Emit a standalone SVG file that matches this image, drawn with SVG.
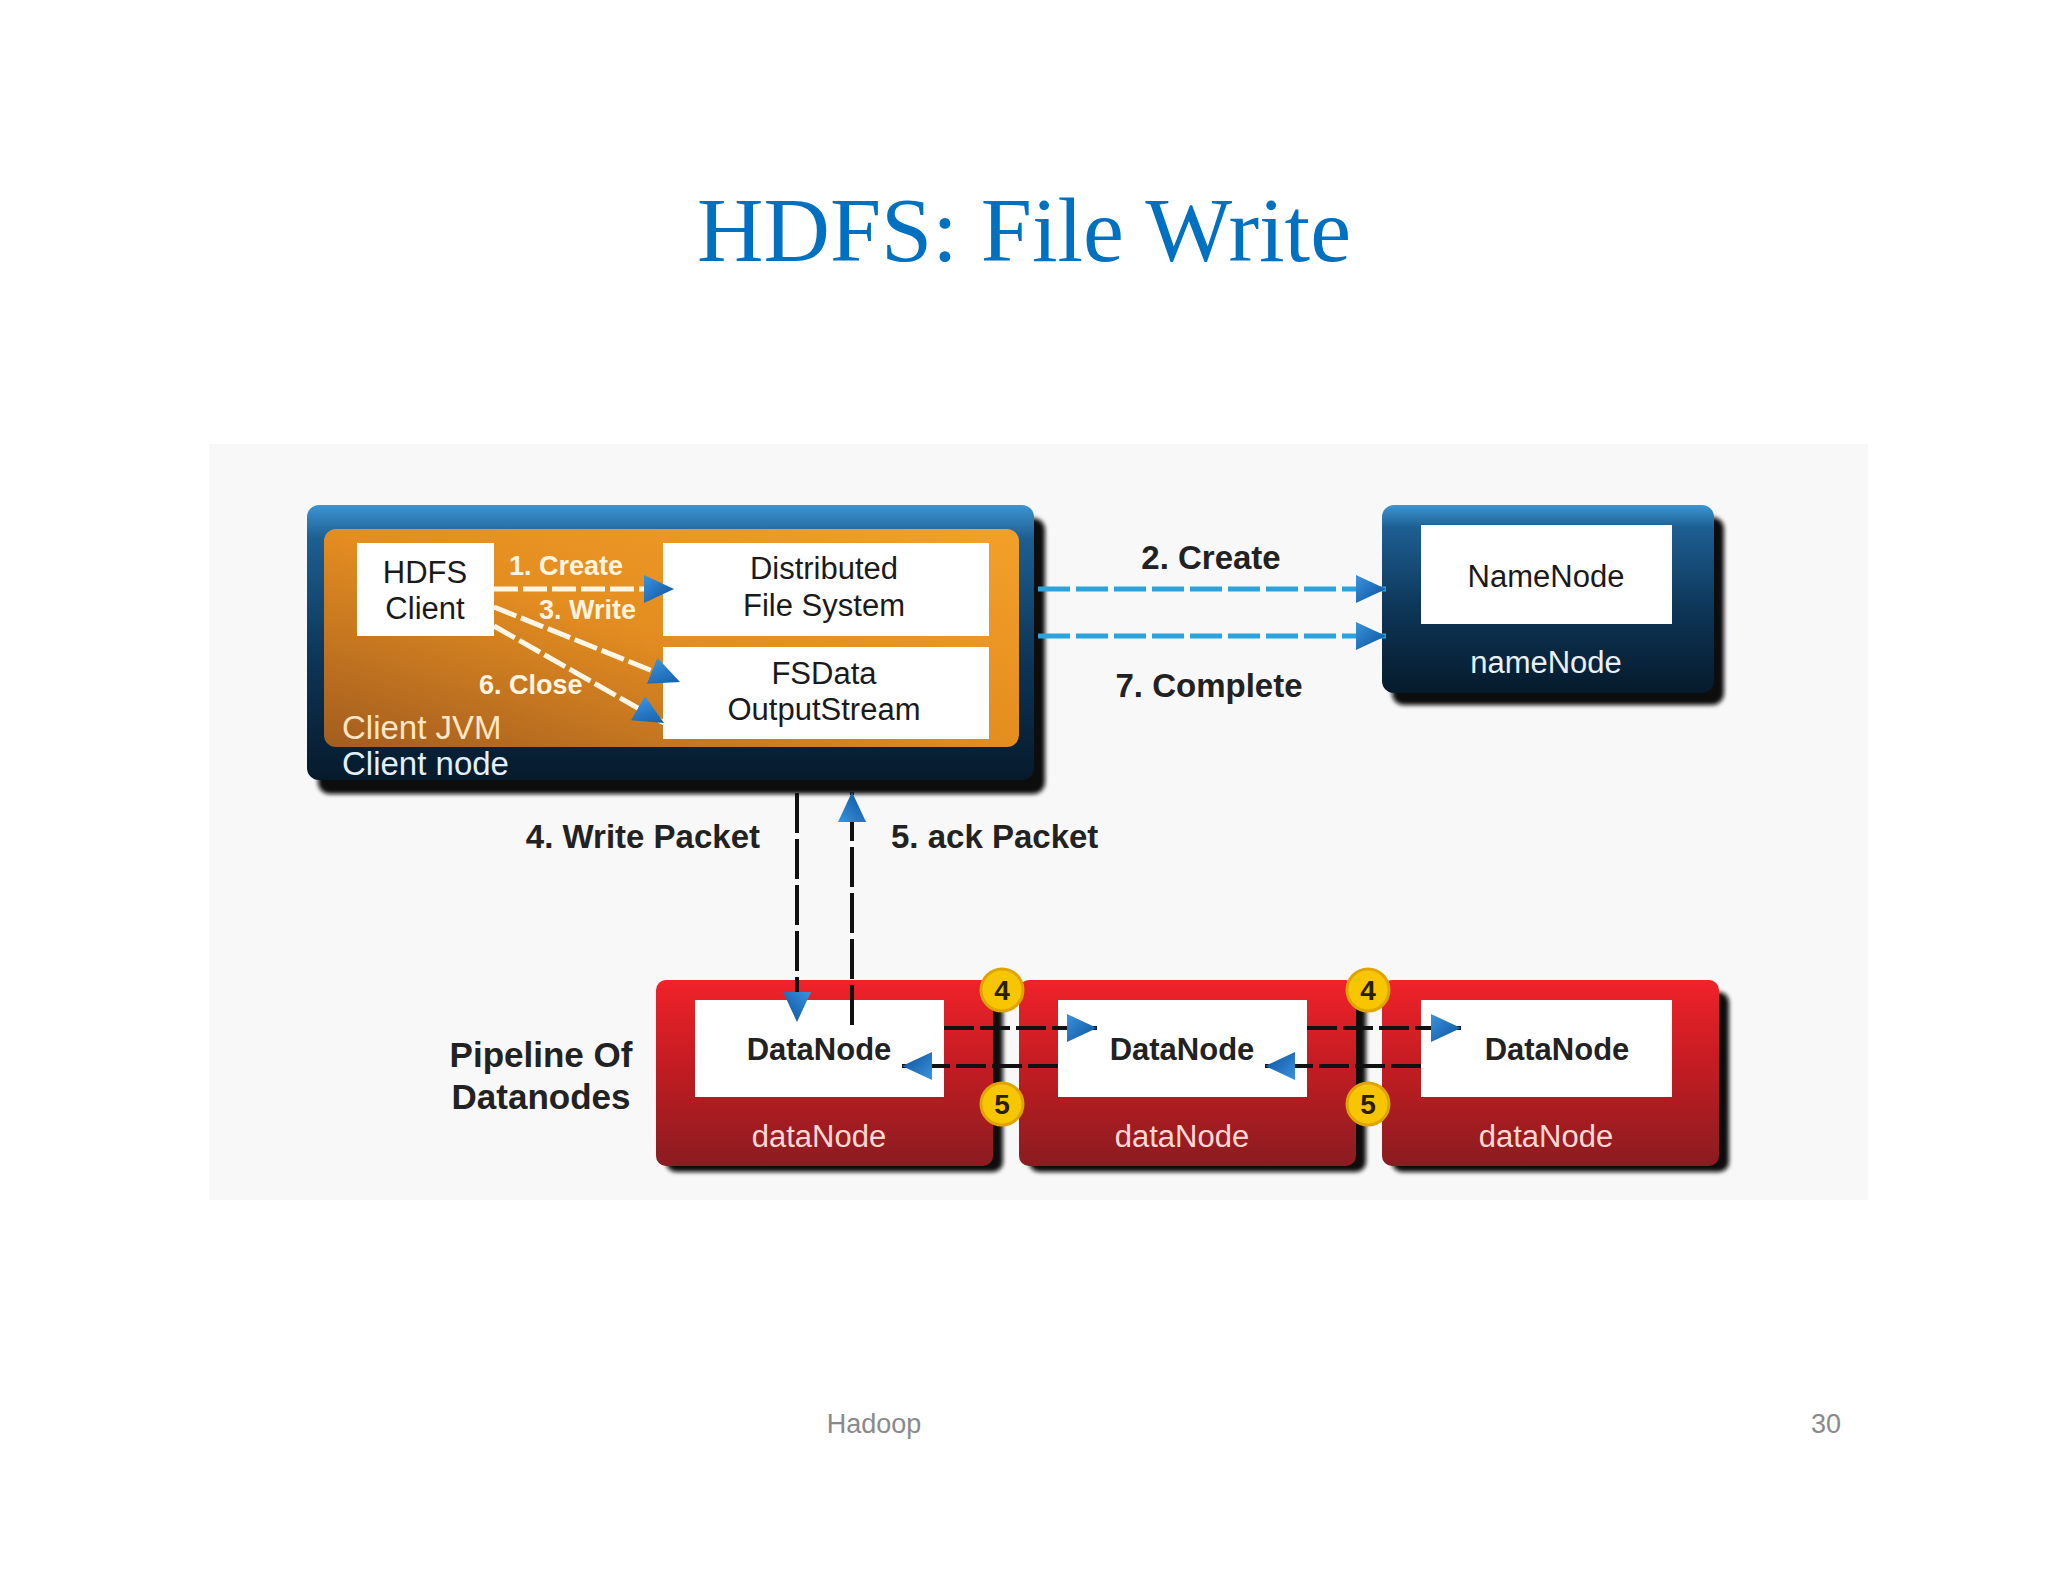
<svg xmlns="http://www.w3.org/2000/svg" width="2048" height="1582" viewBox="0 0 2048 1582">
<defs>
<style>
.sans{font-family:"Liberation Sans",Arial,sans-serif}
.lbl{font-family:"Liberation Sans",Arial,sans-serif;font-weight:bold;font-size:33px;fill:#222}
.box{font-family:"Liberation Sans",Arial,sans-serif;font-size:31px;fill:#1a1a1a}
.inl{font-family:"Liberation Sans",Arial,sans-serif;font-weight:bold;font-size:27px;fill:#fff4e0}
.dn{font-family:"Liberation Sans",Arial,sans-serif;font-weight:bold;font-size:31px;fill:#222}
.dnl{font-family:"Liberation Sans",Arial,sans-serif;font-size:31px;fill:#ffd8d4}
.num{font-family:"Liberation Sans",Arial,sans-serif;font-weight:bold;font-size:28px;fill:#2a2000}
.white{fill:#ffffff}
.shadow{fill:#0b0b0b}
.wd{fill:none;stroke:#fff6e6;stroke-width:5;stroke-dasharray:24 5}
.bd{fill:none;stroke:#2ba3dc;stroke-width:5;stroke-dasharray:32 6}
.kd{fill:none;stroke:#111;stroke-width:4;stroke-dasharray:40 6}
.kh{fill:none;stroke:#111;stroke-width:4;stroke-dasharray:30 6}
.yc{fill:#f7c600;stroke:#e0a400;stroke-width:3}
</style>
<linearGradient id="gBlue" x1="0" y1="0" x2="0" y2="1">
<stop offset="0" stop-color="#3d95d2"/>
<stop offset="0.12" stop-color="#1d5f92"/>
<stop offset="0.55" stop-color="#0d3658"/>
<stop offset="1" stop-color="#061a2b"/>
</linearGradient>
<linearGradient id="gOrange" x1="1" y1="0" x2="0" y2="1">
<stop offset="0" stop-color="#f3a02a"/>
<stop offset="0.5" stop-color="#e48d20"/>
<stop offset="1" stop-color="#a25d1f"/>
</linearGradient>
<linearGradient id="gRed" x1="0" y1="0" x2="0" y2="1">
<stop offset="0" stop-color="#f0222a"/>
<stop offset="0.45" stop-color="#c41c22"/>
<stop offset="1" stop-color="#8a1c20"/>
</linearGradient>
<linearGradient id="gArrow" x1="0" y1="0" x2="1" y2="1">
<stop offset="0" stop-color="#3a94e0"/>
<stop offset="1" stop-color="#0b4f9a"/>
</linearGradient>
<marker id="ah" viewBox="0 0 30 28" refX="30" refY="14" markerWidth="30" markerHeight="28" markerUnits="userSpaceOnUse" orient="auto">
<path d="M0,0 L30,14 L0,28 z" fill="url(#gArrow)"/>
</marker>
<filter id="blur" x="-5%" y="-5%" width="110%" height="110%"><feGaussianBlur stdDeviation="2"/></filter>
</defs>

<rect width="2048" height="1582" fill="#ffffff"/>
<rect x="209" y="444" width="1659" height="756" fill="#f8f8f8"/>

<text x="1024" y="261" text-anchor="middle" font-family="Liberation Serif, Times New Roman, serif" font-size="92" fill="#0070c0">HDFS: File Write</text>

<g id="client-node">
<rect x="318" y="518" width="727" height="276" rx="12" class="shadow" filter="url(#blur)"/>
<rect x="307" y="505" width="727" height="275" rx="12" fill="url(#gBlue)"/>
<rect x="324" y="529" width="695" height="218" rx="12" fill="url(#gOrange)"/>
<text x="342" y="739" class="sans" font-size="33" fill="#ffe6c4">Client JVM</text>
<text x="342" y="775" class="sans" font-size="33" fill="#e2efff">Client node</text>
</g>

<g id="hdfs-client">
<rect x="357" y="543" width="137" height="93" class="white"/>
<text x="425" y="583" text-anchor="middle" class="box">HDFS</text>
<text x="425" y="619" text-anchor="middle" class="box">Client</text>
</g>

<g id="dfs">
<rect x="663" y="543" width="326" height="93" class="white"/>
<text x="824" y="579" text-anchor="middle" class="box">Distributed</text>
<text x="824" y="616" text-anchor="middle" class="box">File System</text>
</g>

<g id="fsdata">
<rect x="663" y="647" width="326" height="92" class="white"/>
<text x="824" y="684" text-anchor="middle" class="box">FSData</text>
<text x="824" y="720" text-anchor="middle" class="box">OutputStream</text>
</g>

<g id="namenode">
<rect x="1392" y="517" width="332" height="188" rx="12" class="shadow" filter="url(#blur)"/>
<rect x="1382" y="505" width="332" height="188" rx="12" fill="url(#gBlue)"/>
<rect x="1421" y="525" width="251" height="99" class="white"/>
<text x="1546" y="587" text-anchor="middle" class="box">NameNode</text>
<text x="1546" y="673" text-anchor="middle" class="sans" font-size="31" fill="#e8f0f8">nameNode</text>
</g>

<g id="datanode1">
<rect x="666" y="992" width="337" height="180" rx="10" class="shadow" filter="url(#blur)"/>
<rect x="656" y="980" width="337" height="186" rx="10" fill="url(#gRed)"/>
<rect x="695" y="1000" width="249" height="97" class="white"/>
<text x="819" y="1060" text-anchor="middle" class="dn">DataNode</text>
<text x="819" y="1147" text-anchor="middle" class="dnl">dataNode</text>
</g>

<g id="datanode2">
<rect x="1029" y="992" width="337" height="180" rx="10" class="shadow" filter="url(#blur)"/>
<rect x="1019" y="980" width="337" height="186" rx="10" fill="url(#gRed)"/>
<rect x="1058" y="1000" width="249" height="97" class="white"/>
<text x="1182" y="1060" text-anchor="middle" class="dn">DataNode</text>
<text x="1182" y="1147" text-anchor="middle" class="dnl">dataNode</text>
</g>

<g id="datanode3">
<rect x="1392" y="992" width="337" height="180" rx="10" class="shadow" filter="url(#blur)"/>
<rect x="1382" y="980" width="337" height="186" rx="10" fill="url(#gRed)"/>
<rect x="1421" y="1000" width="251" height="97" class="white"/>
<text x="1557" y="1060" text-anchor="middle" class="dn">DataNode</text>
<text x="1546" y="1147" text-anchor="middle" class="dnl">dataNode</text>
</g>

<g id="pipeline-label">
<text x="541" y="1067" text-anchor="middle" class="sans" font-weight="bold" font-size="35" fill="#222">Pipeline Of</text>
<text x="541" y="1109" text-anchor="middle" class="sans" font-weight="bold" font-size="35" fill="#222">Datanodes</text>
</g>

<g id="connectors">
<line x1="494" y1="589" x2="674" y2="589" class="wd" marker-end="url(#ah)"/>
<text x="509" y="575" class="inl">1. Create</text>
<line x1="494" y1="607" x2="680" y2="682" class="wd" marker-end="url(#ah)"/>
<text x="539" y="619" class="inl">3. Write</text>
<line x1="494" y1="626" x2="664" y2="723" class="wd" marker-end="url(#ah)"/>
<text x="479" y="694" class="inl">6. Close</text>

<line x1="1038" y1="589" x2="1386" y2="589" class="bd" marker-end="url(#ah)"/>
<text x="1211" y="569" text-anchor="middle" class="lbl">2. Create</text>
<line x1="1038" y1="636" x2="1386" y2="636" class="bd" marker-end="url(#ah)"/>
<text x="1209" y="697" text-anchor="middle" class="lbl">7. Complete</text>

<line x1="797" y1="793" x2="797" y2="1022" class="kd" marker-end="url(#ah)"/>
<text x="760" y="848" text-anchor="end" class="lbl">4. Write Packet</text>
<line x1="852" y1="1025" x2="852" y2="792" class="kd" marker-end="url(#ah)"/>
<text x="891" y="848" class="lbl">5. ack Packet</text>

<line x1="944" y1="1028" x2="1097" y2="1028" class="kh" marker-end="url(#ah)"/>
<line x1="1058" y1="1066" x2="902" y2="1066" class="kh" marker-end="url(#ah)"/>
<line x1="1307" y1="1028" x2="1461" y2="1028" class="kh" marker-end="url(#ah)"/>
<line x1="1421" y1="1066" x2="1265" y2="1066" class="kh" marker-end="url(#ah)"/>

<circle cx="1002" cy="990" r="21" class="yc"/>
<text x="1002" y="1000" text-anchor="middle" class="num">4</text>
<circle cx="1002" cy="1104" r="21" class="yc"/>
<text x="1002" y="1114" text-anchor="middle" class="num">5</text>
<circle cx="1368" cy="990" r="21" class="yc"/>
<text x="1368" y="1000" text-anchor="middle" class="num">4</text>
<circle cx="1368" cy="1104" r="21" class="yc"/>
<text x="1368" y="1114" text-anchor="middle" class="num">5</text>
</g>

<text x="874" y="1433" text-anchor="middle" class="sans" font-size="27" fill="#8a8a8a">Hadoop</text>
<text x="1826" y="1433" text-anchor="middle" class="sans" font-size="27" fill="#8a8a8a">30</text>
</svg>
